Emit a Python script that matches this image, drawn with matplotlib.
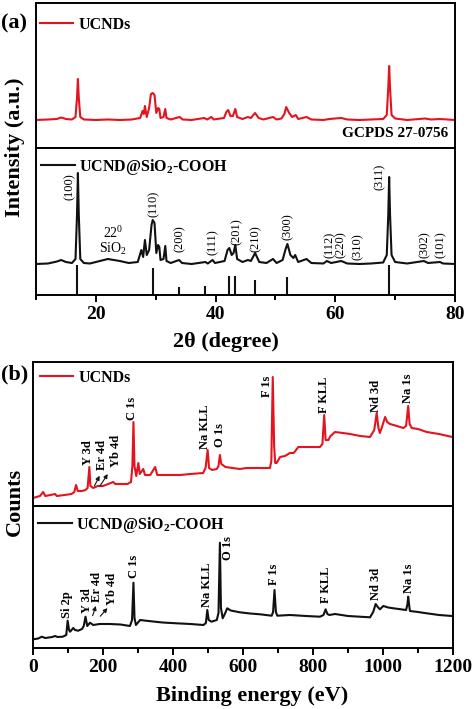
import matplotlib
matplotlib.use("Agg")
import matplotlib.pyplot as plt

plt.rcParams['font.family'] = ['Liberation Serif', 'DejaVu Serif']
plt.rcParams['mathtext.fontset'] = 'custom'
plt.rcParams['mathtext.rm'] = 'Liberation Serif'
plt.rcParams['mathtext.bf'] = 'Liberation Serif:bold'
plt.rcParams['mathtext.it'] = 'Liberation Serif:italic'

RED = '#e3141e'
BLK = '#111111'

# ---------------- XRD data (2theta, intensity a.u.) ----------------
xrd_ucnd_x = [10, 12, 13.5, 14.2, 15, 16, 16.6, 16.85, 17.0, 17.15, 17.4, 18, 20, 22, 24, 26,
              27.4, 27.8, 28.0, 28.2, 28.5, 28.9, 29.2, 29.5, 29.8, 30.1, 30.4, 30.6, 30.8, 31.3,
              31.6, 31.8, 32.5, 34, 34.5, 36, 38.1, 38.6, 39.3, 39.7, 41.4, 41.8, 42.1, 42.5, 42.9,
              43.3, 43.6, 44.5, 45.4, 45.9, 46.6, 47.2, 48, 49.6, 50.2, 51, 51.5, 51.8, 52.3, 52.8,
              53.4, 53.8, 55.2, 56, 58, 59, 61, 62, 64, 66, 68, 68.6, 68.85, 69.0, 69.15, 69.4, 70,
              72, 75, 76, 77.5, 80]
xrd_ucnd_y = [28, 28.5, 29, 30.5, 29, 28.5, 31, 50, 69, 50, 31, 28.5, 28, 28.5, 28, 28.5,
              30, 37, 34, 42, 31, 40, 54, 55, 53, 35, 40, 39, 30, 31,
              39, 30, 28.5, 31, 28.5, 28, 30, 28.5, 31, 28.5, 30, 36, 38, 32, 32,
              39, 31, 29, 31, 30, 35, 30, 28.5, 31, 28.5, 29.5, 34, 41, 35, 31,
              33, 29, 31, 28.5, 28, 29, 30, 28.5, 28, 28.5, 29, 33, 60, 82, 60, 33, 29.5,
              28, 29.5, 28.5, 29, 28]

xrd_sio2_x = [10, 12, 13.5, 14.2, 15, 16, 16.6, 16.85, 17.0, 17.15, 17.4, 18, 19, 20, 22, 24,
              25.5, 27, 27.6, 27.9, 28.2, 28.5, 28.9, 29.3, 29.5, 29.8, 30.1, 30.4, 30.6, 30.8,
              31.3, 31.6, 31.8, 32.5, 33.9, 34.4, 36, 38.3, 38.7, 39.5, 39.9, 41.5, 42.0, 42.3,
              42.7, 43.0, 43.3, 43.6, 44.5, 45.4, 45.9, 46.6, 47.3, 48.5, 49.6, 50.2, 51.2, 51.7,
              52.0, 52.5, 53.0, 53.3, 53.8, 55.2, 56, 58, 58.6, 59.3, 61, 62, 64, 66, 68, 68.6,
              68.85, 69.0, 69.15, 69.4, 70, 72, 74.8, 75.5, 77.5, 78, 80]
xrd_sio2_y = [31, 31.5, 33.5, 35, 33, 32, 36, 80, 122, 80, 36, 32, 31.5, 33, 36, 34,
              32, 33, 45, 38, 55, 40, 45, 70, 75, 72, 42, 50, 48, 35,
              36, 49, 34, 32, 35, 32, 31, 33, 31.5, 35, 32, 34, 45, 47,
              40, 42, 50, 36, 33, 35, 34, 42, 33, 32, 36, 32, 35, 46,
              51, 40, 37, 40, 33, 36, 32, 31.5, 34, 32, 34, 31.5, 31, 31.5, 32.5, 40,
              80, 118, 80, 40, 33, 31.5, 34, 32, 33, 31.5, 31]

ref_pos = [16.9, 29.6, 33.9, 38.3, 42.3, 43.3, 46.6, 52.0, 68.9]
ref_int = [30, 27, 8, 9, 19, 19, 15, 18, 30]

hkl_labels = ['(100)', '(110)', '(200)', '(111)', '(201)', '(210)', '(300)', '(112)',
              '(220)', '(310)', '(311)', '(302)', '(101)']
hkl_x = [15.7, 29.7, 34.0, 39.5, 43.6, 46.7, 52.0, 59.0, 61.0, 63.8, 67.5, 75.0, 77.6]
hkl_y = [95, 78, 43, 40, 50, 43, 55, 37, 37, 35, 105, 37, 37]

xrd_ticks = [20, 40, 60, 80]

# ---------------- XPS data (binding energy eV, counts a.u.) ----------------
xps_ucnd_x = [0, 10, 20, 29, 35, 50, 63, 68, 90, 110, 118, 123, 128, 140, 150, 156, 161, 164, 172,
              185, 200, 215, 229, 235, 250, 270, 280, 284, 287, 290, 295, 301, 305, 315, 320, 335,
              349, 355, 380, 420, 450, 486, 493, 499, 503, 512, 525, 530, 534, 538, 550, 570, 591,
              610, 634, 660, 677, 681, 685, 689, 692, 696, 706, 720, 734, 745, 758, 790, 820, 827,
              832, 836, 844, 850, 863, 885, 906, 935, 963, 975, 982, 987, 991, 998, 1006, 1012,
              1020, 1040, 1058, 1066, 1072, 1076, 1082, 1100, 1125, 1160, 1198]
xps_ucnd_y = [8, 9, 10, 14, 10, 11, 12, 10, 11, 12, 14, 21, 15, 15, 16, 18, 39, 20, 18,
              20, 20, 22, 24, 22, 22, 22, 24, 40, 84, 40, 30, 43, 32, 37, 31, 31,
              39, 31, 31, 31, 32, 33, 38, 56, 38, 36, 37, 40, 51, 42, 39, 38, 37,
              38, 38, 38, 38, 45, 129, 60, 43, 43, 49, 50, 53, 53, 59, 59, 59, 62,
              91, 66, 66, 70, 74, 73, 72, 70, 69, 76, 93, 78, 73, 80, 89, 84,
              82, 80, 78, 80, 100, 82, 78, 77, 74, 72, 69]

xps_sio2_x = [0, 15, 25, 35, 55, 63, 70, 85, 95, 99, 103, 106, 115, 120, 129, 140, 145, 150, 155,
              163, 172, 190, 220, 250, 277, 283, 287, 290, 294, 306, 330, 370, 410, 450, 487, 494,
              498, 502, 510, 525, 530, 534, 537, 542, 548, 555, 565, 582, 591, 620, 649, 682, 686,
              690, 694, 698, 734, 780, 820, 830, 836, 841, 847, 863, 900, 963, 972, 979, 985, 991,
              1001, 1015, 1030, 1066, 1070, 1072, 1075, 1077, 1100, 1125, 1160, 1198]
xps_sio2_y = [8.7, 9.5, 11.3, 10, 11, 12, 11, 11.3, 13, 27.3, 18, 16.3, 20, 18, 17.3, 19, 22, 31.3, 22,
              25.3, 23, 24, 24, 23.5, 22, 28, 65.3, 30, 23, 28, 27, 25.5, 24.7, 24, 23, 25,
              38, 28, 26.3, 28, 35, 105.3, 40, 29.7, 34, 39.7, 37.5, 36.3, 35.7, 34.5, 33.7, 32.3, 36,
              58, 36, 32.3, 33, 32, 31.3, 33, 38.7, 34, 33, 34, 32, 30.7, 36, 44, 41, 38.7,
              42, 40.5, 39.7, 38, 44, 51.3, 42, 37, 36, 34.7, 33, 32]

xps_ticks = [0, 200, 400, 600, 800, 1000, 1200]

# peak label annotations: (text, energy, bottom of text)
xps_lab_ucnd = [('Y 3d', 158, 41), ('Er 4d', 196, 36), ('Yb 4d', 237, 39), ('C 1s', 284, 86),
                ('Na KLL', 491, 57), ('O 1s', 534, 59), ('F 1s', 668, 109), ('F KLL', 831, 93),
                ('Nd 3d', 980, 94), ('Na 1s', 1072, 103)]
xps_lab_sio2 = [('Si 2p', 98, 29.7), ('Y 3d', 153, 34.7), ('Er 4d', 182, 46.3), ('Yb 4d', 225, 43),
                ('C 1s', 289, 69.7), ('Na KLL', 496, 41.3), ('O 1s', 556, 88), ('F 1s', 689, 63),
                ('F KLL', 837, 44.7), ('Nd 3d', 980, 48), ('Na 1s', 1075, 55.3)]
arrows_ucnd = [((172, 17.7), (194, 32.7)), ((187, 17.7), (218, 34.3))]
arrows_sio2 = [((168, 29.7), (182, 44.7)), ((187, 29.7), (218, 42))]

# ---------------- figure ----------------
fig = plt.figure(figsize=(4.74, 7.09), dpi=100)
W, H = 474, 709

def add_ax(l, t, r, b):
    return fig.add_axes([l / W, 1 - b / H, (r - l) / W, (b - t) / H])

axa1 = add_ax(36, 3, 455, 148)
axa2 = add_ax(36, 148, 455, 295)
axb1 = add_ax(33, 362, 453, 506)
axb2 = add_ax(33, 506, 453, 648)

SPW = 1.4
for ax in (axa1, axa2, axb1, axb2):
    for s in ax.spines.values():
        s.set_linewidth(SPW)
    ax.set_yticks([])

TICKFS = 14
LEGFS = 11.5
LABFS = 16
LW = 1.5

def style_bottom(ax, ticks, minor):
    ax.set_xticks(ticks)
    ax.set_xticks(minor, minor=True)
    ax.tick_params(axis='x', which='major', direction='out', length=5, width=SPW,
                   labelsize=TICKFS, pad=3)
    ax.tick_params(axis='x', which='minor', direction='out', length=3.5, width=SPW)
    for lab in ax.get_xticklabels():
        lab.set_fontweight('bold')

def hide_x(ax):
    ax.set_xticks([])

LEGKW = dict(loc='upper left', frameon=False, prop={'weight': 'bold', 'size': LEGFS},
             handlelength=2.1, handletextpad=0.3)

# ---- panel (a)
axa1.plot(xrd_ucnd_x, xrd_ucnd_y, color=RED, lw=LW, label='UCNDs')
axa1.set_xlim(10, 80); axa1.set_ylim(0, 145)
hide_x(axa1)
axa1.text(0.985, 0.1, 'GCPDS 27-0756', transform=axa1.transAxes, ha='right', va='center',
          fontsize=11, fontweight='bold')
axa1.legend(bbox_to_anchor=(-0.025, 1.004), **LEGKW)

axa2.plot(xrd_sio2_x, xrd_sio2_y, color=BLK, lw=LW, label='UCND@SiO$_\\mathbf{2}$-COOH')
axa2.vlines(ref_pos, 0, ref_int, color=BLK, lw=1.5)
axa2.set_xlim(10, 80); axa2.set_ylim(0, 147)
style_bottom(axa2, xrd_ticks, [10, 30, 50, 70])
axa2.legend(bbox_to_anchor=(-0.022, 1.036), **LEGKW)
for t, x, y in zip(hkl_labels, hkl_x, hkl_y):
    axa2.text(x, y, t, rotation=90, ha='center', va='bottom', fontsize=9)
axa2.text(22.9, 38, '22$^{0}$\nSiO$_{2}$', ha='center', va='bottom', fontsize=10,
          linespacing=1.0)
axa2.set_xlabel('2θ (degree)', fontsize=LABFS, fontweight='bold')
axa2.xaxis.set_label_coords(0.453, -0.25)

fig.text(15 / W, 1 - 147 / H, 'Intensity (a.u.)', rotation=90, ha='center', va='center',
         fontsize=LABFS, fontweight='bold')
fig.text(1 / W, 1 - 23 / H, '(a)', ha='left', va='center', fontsize=16, fontweight='bold')

# ---- panel (b)
axb1.plot(xps_ucnd_x, xps_ucnd_y, color=RED, lw=LW, label='UCNDs')
axb1.set_xlim(0, 1200); axb1.set_ylim(0, 144)
hide_x(axb1)
axb1.legend(bbox_to_anchor=(-0.018, 1.045), **LEGKW)
for t, x, y in xps_lab_ucnd:
    axb1.text(x, y, t, rotation=90, ha='center', va='bottom', fontsize=9, fontweight='bold')
for (x0, y0), (x1, y1) in arrows_ucnd:
    axb1.annotate('', xy=(x1, y1), xytext=(x0, y0),
                  arrowprops=dict(arrowstyle='-|>', color=BLK, lw=0.8, mutation_scale=6))

axb2.plot(xps_sio2_x, xps_sio2_y, color=BLK, lw=LW, label='UCND@SiO$_\\mathbf{2}$-COOH')
axb2.set_xlim(0, 1200); axb2.set_ylim(0, 142)
style_bottom(axb2, xps_ticks, [100, 300, 500, 700, 900, 1100])
axb2.legend(bbox_to_anchor=(-0.022, 1.04), **LEGKW)
for t, x, y in xps_lab_sio2:
    axb2.text(x, y, t, rotation=90, ha='center', va='bottom', fontsize=9, fontweight='bold')
for (x0, y0), (x1, y1) in arrows_sio2:
    axb2.annotate('', xy=(x1, y1), xytext=(x0, y0),
                  arrowprops=dict(arrowstyle='-|>', color=BLK, lw=0.8, mutation_scale=6))
axb2.set_xlabel('Binding energy (eV)', fontsize=LABFS, fontweight='bold')
axb2.xaxis.set_label_coords(0.521, -0.27)

fig.text(15 / W, 1 - 502 / H, 'Counts', rotation=90, ha='center', va='center',
         fontsize=LABFS, fontweight='bold')
fig.text(1 / W, 1 - 374 / H, '(b)', ha='left', va='center', fontsize=16, fontweight='bold')

fig.savefig('out.png', dpi=100)
